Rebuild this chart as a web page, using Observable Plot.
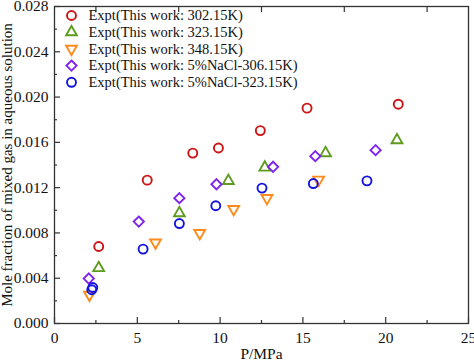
<!DOCTYPE html>
<html>
<head>
<meta charset="utf-8">
<script src="https://cdn.jsdelivr.net/npm/d3@7"></script>
<script src="https://cdn.jsdelivr.net/npm/@observablehq/plot@0.6"></script>
<style>
  html, body { margin: 0; padding: 0; background: #fff; }
  #chart svg { display: block; }
</style>
</head>
<body>
<div id="chart"></div>
<script>
// Series names
const seriesNames = [
  "Expt(This work: 302.15K)",
  "Expt(This work: 323.15K)",
  "Expt(This work: 348.15K)",
  "Expt(This work: 5%NaCl-306.15K)",
  "Expt(This work: 5%NaCl-323.15K)"
];
const seriesColors = ["#cc1515", "#5e9b1e", "#ff8a1c", "#7e24ec", "#1414e0"];
const seriesSymbols = ["circle", "triangle", "triangle", "diamond2", "circle"];
const seriesRotate = [0, 0, 180, 0, 0];
const seriesR = [4.5, 4.0, 4.0, 4.6, 4.5];

// Data: pressure (MPa), mole fraction
const p302 = [2.67, 5.6, 8.35, 9.9, 12.43, 15.25, 20.76];
const x302 = [0.0068, 0.01266, 0.01505, 0.0155, 0.01704, 0.01902, 0.01937];

const p323 = [2.67, 7.54, 10.5, 12.7, 16.37, 20.68];
const x323 = [0.0049, 0.00975, 0.0126, 0.01378, 0.01505, 0.0162];

const p348 = [2.11, 6.1, 8.77, 10.82, 12.83, 15.95];
const x348 = [0.00253, 0.00715, 0.00798, 0.0101, 0.01107, 0.0127];

const pNa306 = [2.07, 5.09, 7.54, 9.78, 13.2, 15.75, 19.39];
const xNa306 = [0.00397, 0.009, 0.01107, 0.0123, 0.01384, 0.01478, 0.01531];

const pNa323 = [2.31, 2.25, 5.35, 7.54, 9.74, 12.53, 15.63, 18.87];
const xNa323 = [0.00318, 0.00298, 0.00657, 0.00883, 0.0104, 0.01196, 0.01236, 0.0126];

// Ticks
const xMajorTicks = [0, 5, 10, 15, 20, 25];
const xMinorTicks = [2.5, 7.5, 12.5, 17.5, 22.5];
const yMajorTicks = [0, 0.004, 0.008, 0.012, 0.016, 0.020, 0.024, 0.028];
const yMinorTicks = [0.002, 0.006, 0.010, 0.014, 0.018, 0.022, 0.026];

const allP = [p302, p323, p348, pNa306, pNa323];
const allX = [x302, x323, x348, xNa306, xNa323];

const rows = [];
allP.forEach((ps, s) => ps.forEach((p, i) => rows.push({series: s, p, x: allX[s][i]})));

const font = "'Liberation Serif', 'Times New Roman', serif";

const marks = [
  Plot.frame({stroke: "#333", strokeWidth: 1.3}),
  Plot.axisY({ticks: yMajorTicks, tickSize: -6, tickFormat: () => "", label: null, stroke: "#333", strokeWidth: 1.2}),
  Plot.axisY({ticks: yMinorTicks, tickSize: -3, tickFormat: () => "", label: null, stroke: "#333", strokeWidth: 1.2}),
  Plot.axisY({ticks: yMajorTicks, tickSize: 0, tickPadding: 6, tickFormat: d => d.toFixed(3), label: null, fontSize: 15.5, fill: "#111"}),
  Plot.axisX({ticks: xMajorTicks, tickSize: -6, tickFormat: () => "", label: null, stroke: "#333", strokeWidth: 1.2}),
  Plot.axisX({ticks: xMinorTicks, tickSize: -3, tickFormat: () => "", label: null, stroke: "#333", strokeWidth: 1.2}),
  Plot.axisX({ticks: xMinorTicks, anchor: "top", tickSize: -5, tickFormat: () => "", label: null, stroke: "#333", strokeWidth: 1.2}),
  Plot.axisX({ticks: xMajorTicks, tickSize: 0, tickPadding: 8, tickFormat: d => String(d), label: null, fontSize: 15.5, fill: "#111"}),
];

seriesNames.forEach((name, s) => {
  marks.push(Plot.dot(rows.filter(d => d.series === s), {
    x: "p", y: "x", symbol: () => seriesSymbols[s], rotate: seriesRotate[s],
    r: seriesR[s], stroke: seriesColors[s], strokeWidth: 1.9, fill: "none"
  }));
});

seriesNames.forEach((name, s) => {
  marks.push(Plot.dot([name], {
    frameAnchor: "top-left", dx: 17, dy: 9 + s * 16.7,
    symbol: () => seriesSymbols[s], rotate: seriesRotate[s],
    r: seriesR[s], stroke: seriesColors[s], strokeWidth: 1.9, fill: "none"
  }));
  marks.push(Plot.text([name], {
    frameAnchor: "top-left", dx: 34, dy: 9 + s * 16.7,
    text: d => d, textAnchor: "start", lineAnchor: "middle",
    fontSize: 14.5, fill: "#111"
  }));
});

const chart = Plot.plot({
  width: 474,
  height: 363,
  marginLeft: 54,
  marginRight: 6,
  marginTop: 6,
  marginBottom: 40,
  style: {fontFamily: font, background: "#fff", color: "#111"},
  x: {domain: [0, 25], label: null},
  y: {domain: [0, 0.028], label: null},
  marks: [
    ...marks,
    Plot.text(["P/MPa"], {frameAnchor: "bottom", dy: 35, text: d => d, fontSize: 15.5, fill: "#111"}),
    Plot.text(["Mole fraction of mixed gas in aqueous solution"], {frameAnchor: "left", dx: -47, rotate: -90, textAnchor: "middle", text: d => d, fontSize: 15, fill: "#111"})
  ]
});

document.getElementById("chart").appendChild(chart);
</script>
</body>
</html>
